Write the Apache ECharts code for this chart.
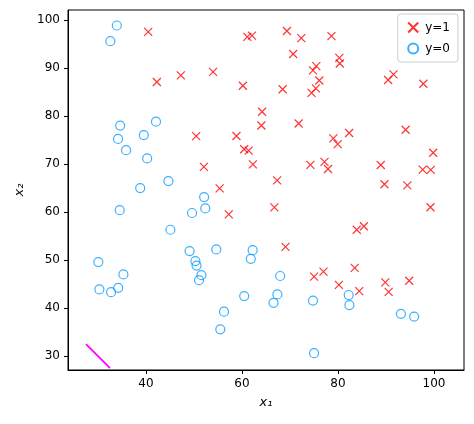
<!DOCTYPE html><html><head><meta charset="utf-8"><script src="https://cdn.jsdelivr.net/npm/echarts@6/dist/echarts.min.js"></script></head><body style="margin:0"><div id="c" style="width:474px;height:424px"></div><script>
const pos1=[[60.18,86.31],[79.03,75.34],[61.11,96.51],[75.02,46.55],[76.10,87.42],[84.43,43.53],[82.31,76.48],[69.36,97.72],[53.97,89.21],[69.07,52.74],[70.66,92.93],[76.98,47.58],[89.68,65.80],[77.92,68.97],[62.27,69.95],[80.19,44.82],[61.38,72.81],[85.40,57.05],[52.05,69.43],[64.18,80.91],[83.90,56.31],[94.44,65.57],[77.19,70.46],[97.77,86.73],[62.07,96.77],[91.56,88.70],[79.94,74.16],[99.27,61.00],[90.55,43.39],[97.65,68.86],[74.25,69.82],[71.80,78.45],[75.40,85.76],[40.46,97.54],[80.28,92.12],[66.75,60.99],[64.04,78.03],[72.35,96.23],[60.46,73.09],[58.84,75.86],[99.83,72.37],[47.26,88.48],[50.46,75.81],[88.91,69.80],[94.83,45.69],[67.32,66.59],[57.24,59.51],[80.37,90.96],[68.47,85.59],[75.48,90.42],[78.64,96.65],[94.09,77.16],[90.45,87.51],[74.49,84.85],[89.85,45.36],[83.49,48.38],[42.26,87.10],[99.32,68.78],[55.34,64.93],[74.78,89.53]];
const neg0=[[34.62,78.02],[30.29,43.89],[35.85,72.90],[45.08,56.32],[95.86,38.23],[75.01,30.60],[39.54,76.04],[67.95,46.68],[67.37,42.84],[50.53,48.86],[34.21,44.21],[93.11,38.80],[61.83,50.26],[38.79,65.00],[52.11,63.13],[40.24,71.17],[54.64,52.21],[33.92,98.87],[74.79,41.57],[34.18,75.24],[51.55,46.86],[82.37,40.62],[51.05,45.82],[62.22,52.06],[34.52,60.40],[50.29,49.80],[49.59,59.81],[32.58,95.60],[35.29,47.02],[56.25,39.26],[30.06,49.59],[44.67,66.45],[66.56,41.09],[49.07,51.88],[32.72,43.31],[60.46,42.51],[82.23,42.72],[42.08,78.84],[52.35,60.77],[55.48,35.57]];
const boundary=[[27.5,32.5],[32.5,27.5]];
const xTicks=[40,60,80,100], yTicks=[30,40,50,60,70,80,90,100];
const X='path://M0,0L10,10M10,0L0,10';
const ax=(name,min,max,gap,rot)=>({type:'value',min,max,interval:10,name,nameLocation:'middle',nameGap:gap,nameRotate:rot,
 nameTextStyle:{color:'#000',fontSize:13,fontFamily:'DejaVu Sans',fontStyle:'italic'},
 axisLine:{show:true,onZero:false,lineStyle:{color:'#000'}},axisTick:{show:true,length:4,lineStyle:{color:'#000'}},
 axisLabel:{color:'#000',fontSize:12,fontFamily:'DejaVu Sans',formatter:v=>(name==='x₁'?xTicks:yTicks).includes(v)?String(v):''},splitLine:{show:false}});
const xa=ax('x₁',23.75,106.25,26,0); xa.interval=20; xa.min=23.75;
xa.axisLabel.customValues=xTicks; xa.axisTick.customValues=xTicks;
const ya=ax('x₂',27.1,102.1,36,90); ya.axisLabel.customValues=yTicks; ya.axisTick.customValues=yTicks;
const ch=echarts.init(document.getElementById('c'));
ch.setOption({animation:false,
 grid:{left:68,right:10,top:10,bottom:54,show:true,borderColor:'#000',borderWidth:1},
 legend:{right:16,top:14,orient:'vertical',backgroundColor:'#fff',borderColor:'#ccc',borderWidth:1,borderRadius:3,padding:[6,8],itemGap:6,itemWidth:14,itemHeight:10,
  textStyle:{fontSize:12,fontFamily:'DejaVu Sans',color:'#000'},data:['y=1','y=0']},
 xAxis:xa,yAxis:ya,
 series:[
 {name:'y=1',type:'scatter',data:pos1,symbol:X,symbolSize:8,itemStyle:{color:'none',borderColor:'#ff0000',borderWidth:1.2}},
 {name:'y=0',type:'scatter',data:neg0,symbol:'circle',symbolSize:9,itemStyle:{color:'none',borderColor:'#0a9dff',borderWidth:1.2}},
 {name:'b',type:'line',data:boundary,symbol:'none',lineStyle:{color:'#ff00ff',width:1.8}}]});
</script></body></html>
